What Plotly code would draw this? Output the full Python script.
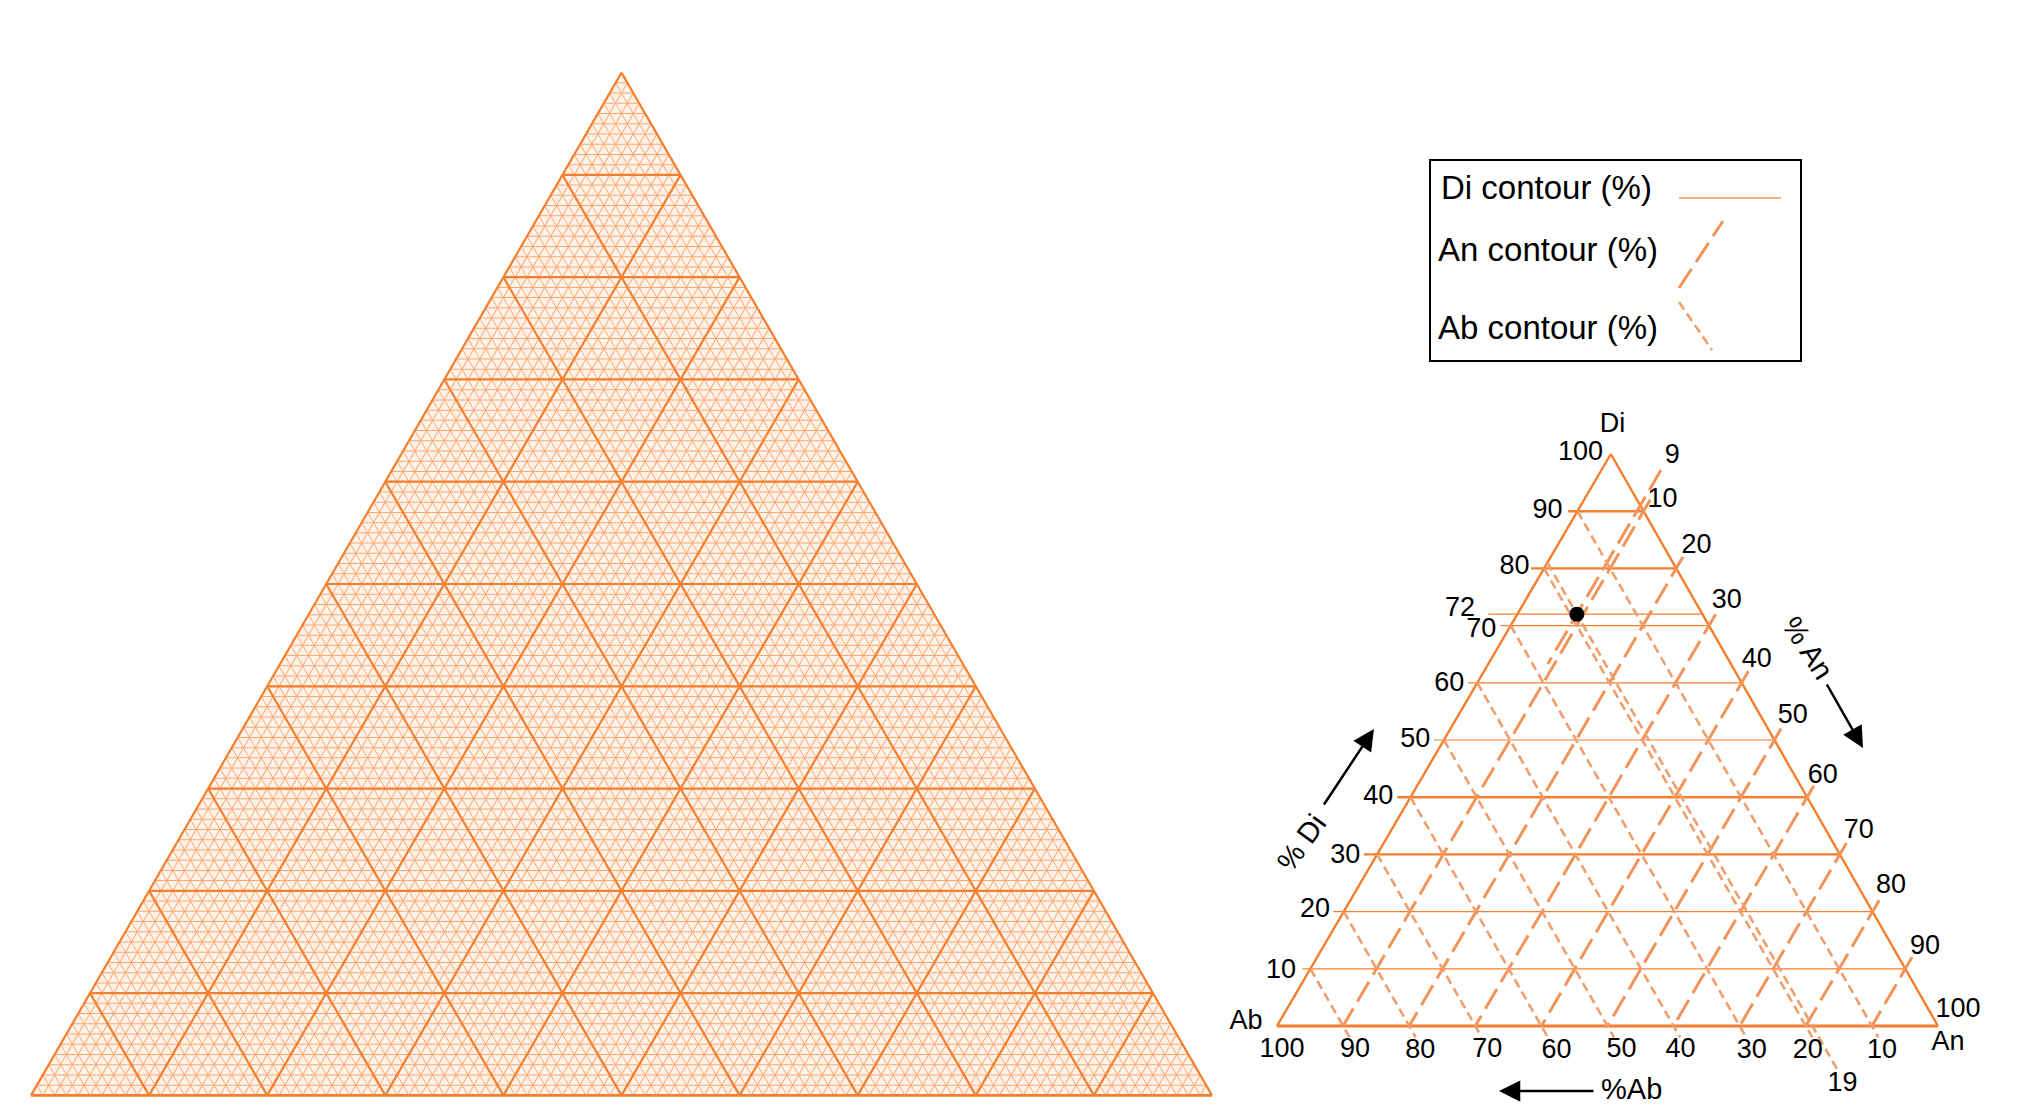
# -*- coding: utf-8 -*-
"""
Di-An-Ab ternary diagram: blank grid on the left, worked example on the right
"""

import plotly.graph_objects as go

WIDTH = 2018
HEIGHT = 1105

# === Data: contour levels (%) ===
major_levels = [10, 20, 30, 40, 50, 60, 70, 80, 90]

di_levels = [10, 20, 30, 40, 50, 60, 70, 72, 80, 90]
di_left_over = [1.2, 1.6, 2.0, 2.0, 1.5, 1.4, 1.5, 4.4, 2.0, 1.4]
di_thick = [30, 40, 80, 90]

an_levels = [9, 10, 20, 30, 40, 50, 60, 70, 80, 90]
an_top_di = [97.2, 92, 82, 72, 62, 52, 42, 32, 22, 12]
an_bottom_di = [63.3, 0, 0, 0, 0, 0, 0, 0, 0, 0]

ab_levels = [10, 19, 20, 30, 40, 50, 60, 70, 80, 90]
ab_bottom_di = [-2, -7.5, -2, -2, -2, -2, -2, -2, -2, -2]

# the plotted composition
point_di = [72]
point_an = [9]

# === Labels ===
di_ticks = [100, 90, 80, 72, 70, 60, 50, 40, 30, 20, 10]
di_dx = [-27, -27, -27, -55, -27, -26, -27, -31, -31, -28, -29]
di_dy = [-3, -2, -3, -7, 3, -1, -2, -2, 0, -3, 0]

an_ticks = [9, 10, 20, 30, 40, 50, 60, 70, 80, 90, 100]
an_dx = [35, 22, 23, 20, 17, 20, 17, 20, 19, 20, 20]
an_dy = [-51, -13, -24, -26, -25, -26, -23, -25, -27, -24, -18]

ab_ticks = [100, 90, 80, 70, 60, 50, 40, 30, 20, 19, 10]
ab_dx = [5, 12, 11, 12, 15, 14, 7, 12, 2, 30, 10]
ab_dy = [22, 22, 23, 22, 23, 22, 22, 23, 23, 56, 23]

corner_names = ['Di', 'Ab', 'An']
corner_di = [100, 0, 0]
corner_an = [0, 0, 100]
corner_dx = [5, -31, 10]
corner_dy = [-31, -6, 15]

# === Colours ===
ORANGE = '#F47F2F'
MINOR = '#F7A873'
AN_DASH = '#F0945A'
AB_DASH = '#EF9E6E'

# triangle corners on the page, px
BIG = dict(left=31, right=1212, top=72.5, bottom=1095.5)
SMALL = dict(left=1277, right=1938, top=454, bottom=1026)
# the small triangle in the source leans a little to the right
LEAN = 0.505

unit_x = (SMALL['right'] - SMALL['left']) / 100
unit_y = (SMALL['bottom'] - SMALL['top']) / 100


def px(x):
    return x / WIDTH


def py(y):
    return 1 - y / HEIGHT


def hidden_axis(width):
    return dict(min=0, title=dict(text=''), showticklabels=False, ticks='', showline=True,
                linecolor=ORANGE, linewidth=width, showgrid=True,
                gridcolor=MINOR, gridwidth=1, dtick=1)


def tern_x(di, an, half=LEAN):
    # left edge of the small triangle is x=0, An corner is x=100
    return [c + a * half for a, c in zip(di, an)]


def add_line(fig, di, an, color, width, dash='solid'):
    fig.add_trace(go.Scatter(
        x=tern_x(di, an), y=di, mode='lines', cliponaxis=False,
        line=dict(color=color, width=width, dash=dash),
        hoverinfo='skip', showlegend=False
    ))


def add_labels(fig, names, di, an, dx, dy):
    xs = tern_x(di, an, 0.5)
    fig.add_trace(go.Scatter(
        x=[x + d / unit_x for x, d in zip(xs, dx)],
        y=[y - (d + 2) / unit_y for y, d in zip(di, dy)],
        mode='text', text=names, textposition='middle center',
        textfont=dict(family='Liberation Sans', size=27, color='black'),
        cliponaxis=False, hoverinfo='skip', showlegend=False
    ))


fig = go.Figure()

# === Left triangle: heavy lines every 10 %, fine grid from the axes ===
for lev in major_levels:
    rest = 100 - lev
    for a, b, c in [([lev, lev], [rest, 0], [0, rest]),
                    ([rest, 0], [lev, lev], [0, rest]),
                    ([rest, 0], [0, rest], [lev, lev])]:
        fig.add_trace(go.Scatterternary(
            a=a, b=b, c=c, subplot='ternary', mode='lines',
            line=dict(color=ORANGE, width=2.2), hoverinfo='skip', showlegend=False
        ))

# === Right triangle: frame and contours ===
add_line(fig, [0, 100], [0, 0], ORANGE, 2.4)
add_line(fig, [100, 0], [0, 100], ORANGE, 2.4)
add_line(fig, [0, 0], [0, 100], ORANGE, 3.2)

for lev, over in zip(di_levels, di_left_over):
    width = 2.4 if lev in di_thick else 1.2
    add_line(fig, [lev, lev], [-over, 100 - lev], ORANGE, width)

for lev, top, bottom in zip(an_levels, an_top_di, an_bottom_di):
    add_line(fig, [top, bottom], [lev, lev], AN_DASH, 3, '23px,8px')

for lev, bottom in zip(ab_levels, ab_bottom_di):
    add_line(fig, [100 - lev, bottom], [0, 100 - lev - bottom], AB_DASH, 2.6, '9px,5px')

fig.add_trace(go.Scatter(
    x=tern_x(point_di, point_an), y=point_di, mode='markers',
    marker=dict(color='black', size=15), hoverinfo='skip', showlegend=False
))

# === Right triangle: tick labels ===
add_labels(fig, [str(t) for t in di_ticks], di_ticks, [0] * len(di_ticks), di_dx, di_dy)
add_labels(fig, [str(t) for t in an_ticks], [100 - t for t in an_ticks], an_ticks, an_dx, an_dy)
add_labels(fig, [str(t) for t in ab_ticks], [0] * len(ab_ticks), [100 - t for t in ab_ticks], ab_dx, ab_dy)
add_labels(fig, corner_names, corner_di, corner_an, corner_dx, corner_dy)

fig.update_layout(
    width=WIDTH, height=HEIGHT, margin=dict(l=0, r=0, t=0, b=0),
    paper_bgcolor='white', plot_bgcolor='rgba(0,0,0,0)', showlegend=False,
    ternary=dict(sum=100, bgcolor='#FFF3E9',
                 domain=dict(x=[px(BIG['left']), px(BIG['right'])], y=[py(BIG['bottom']), py(BIG['top'])]),
                 aaxis=hidden_axis(2.2), baxis=hidden_axis(2.6), caxis=hidden_axis(2.2)),
    # page-wide hidden axes, so labels and overshoots can sit outside the small triangle
    xaxis=dict(visible=False, range=[-SMALL['left'] / unit_x, (WIDTH - SMALL['left']) / unit_x]),
    yaxis=dict(visible=False, range=[(SMALL['bottom'] - HEIGHT) / unit_y, SMALL['bottom'] / unit_y]),
)

# === Legend box, drawn by hand as in the original ===
fig.add_shape(type='rect', xref='paper', yref='paper', x0=px(1430), x1=px(1801), y0=py(361), y1=py(160),
              line=dict(color='black', width=2))
fig.add_shape(type='line', xref='paper', yref='paper', x0=px(1679), x1=px(1781), y0=py(198), y1=py(198),
              line=dict(color=AN_DASH, width=1.4))
fig.add_shape(type='line', xref='paper', yref='paper', x0=px(1679), x1=px(1723), y0=py(288), y1=py(221),
              line=dict(color=AN_DASH, width=3, dash='23px,8px'))
fig.add_shape(type='line', xref='paper', yref='paper', x0=px(1679), x1=px(1712), y0=py(302), y1=py(350),
              line=dict(color=AB_DASH, width=2.6, dash='9px,5px'))

for txt, x, y in [('Di contour (%)', 1439, 187), ('An contour (%)', 1436, 250), ('Ab contour (%)', 1436, 327)]:
    fig.add_annotation(text=txt, x=px(x), y=py(y), xref='paper', yref='paper', showarrow=False,
                       xanchor='left', yanchor='middle',
                       font=dict(family='Liberation Sans', size=33, color='black'))

# === Axis titles and arrows ===
for txt, x, y, angle in [('% Di', 1301, 843, -54), ('% An', 1808, 648, 57), ('%Ab', 1631, 1089, 0)]:
    fig.add_annotation(text=txt, x=px(x), y=py(y), xref='paper', yref='paper', showarrow=False,
                       textangle=angle, xanchor='center', yanchor='middle',
                       font=dict(family='Liberation Sans', size=29, color='black'))

for x0, y0, x1, y1 in [(1323, 806, 1374, 729), (1826, 683, 1863, 748), (1595, 1091, 1499, 1091)]:
    fig.add_annotation(x=px(x1), y=py(y1), xref='paper', yref='paper', text='', showarrow=True,
                       axref='pixel', ayref='pixel', ax=x0 - x1, ay=y0 - y1,
                       arrowhead=2, arrowsize=1.7, arrowwidth=2.5, arrowcolor='black')

fig.write_html('out.html', config=dict(displayModeBar=False),
               post_script="document.body.style.margin = '0';")
